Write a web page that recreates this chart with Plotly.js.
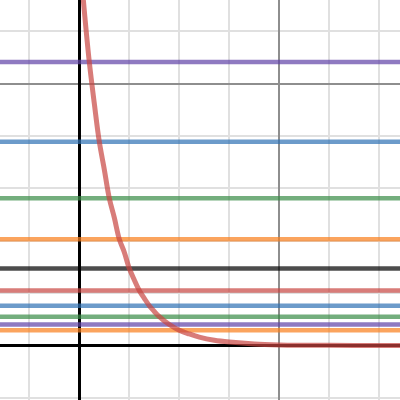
<!DOCTYPE html>
<html>
<head>
<meta charset="utf-8">
<script src="https://cdn.plot.ly/plotly-3.0.1.min.js"></script>
<style>html,body{margin:0;padding:0;background:#fff;}#chart{width:400px;height:400px;}</style>
</head>
<body>
<div id="chart"></div>
<script>
// Curve points
const curveX = [0, 0.1, 0.2, 0.3, 0.4, 0.5, 0.6, 0.7, 0.8, 0.9, 1.0, 1.1, 1.2, 1.3, 1.4, 1.5, 1.6, 1.8, 2.0, 2.2, 2.4, 2.7, 3.0, 3.5, 4.0, 4.5, 5.0, 6.0, 6.5];
const curveY = [7.47, 6.39, 5.41, 4.62, 3.89, 3.36, 2.81, 2.44, 2.03, 1.78, 1.47, 1.25, 1.05, 0.90, 0.76, 0.65, 0.55, 0.40, 0.29, 0.22, 0.16, 0.10, 0.065, 0.028, 0.012, 0.006, 0.003, 0.0005, 0.0002];

// Horizontal level lines (values and colours, top to bottom)
const levelValues = [5.41, 3.89, 2.81, 2.03, 1.47, 1.05, 0.76, 0.55, 0.40, 0.29];
const levelColors = ['#6042a6', '#2d70b3', '#388c46', '#fa7e19', '#000000', '#c74440', '#2d70b3', '#388c46', '#6042a6', '#fa7e19'];
const curveColor = '#c74440';
const xSpan = [-2, 7];

function rgba(hex, a) {
  const r = parseInt(hex.slice(1, 3), 16), g = parseInt(hex.slice(3, 5), 16), b = parseInt(hex.slice(5, 7), 16);
  return 'rgba(' + r + ',' + g + ',' + b + ',' + a + ')';
}

const traces = levelValues.map((v, i) => ({
  type: 'scatter', mode: 'lines',
  x: xSpan, y: [v, v],
  line: {color: rgba(levelColors[i], 0.7), width: 4.5},
  hoverinfo: 'skip', showlegend: false
}));
traces.push({
  type: 'scatter', mode: 'lines',
  x: curveX, y: curveY,
  line: {color: rgba(curveColor, 0.7), width: 5, shape: 'spline', smoothing: 1},
  hoverinfo: 'skip', showlegend: false
});

const layout = {
  width: 400, height: 400,
  margin: {l: 0, r: 0, t: 0, b: 0},
  paper_bgcolor: '#fff', plot_bgcolor: '#fff',
  showlegend: false,
  xaxis: {
    range: [-1.586, 6.414], showticklabels: false, ticks: '',
    tick0: 0, dtick: 4, showgrid: true, gridcolor: '#8e8e8e', gridwidth: 2,
    minor: {tick0: 0, dtick: 1, showgrid: true, gridcolor: '#e0e0e0', gridwidth: 2},
    zeroline: true, zerolinecolor: '#000', zerolinewidth: 3, showline: false, fixedrange: true
  },
  yaxis: {
    range: [-1.040, 6.594], showticklabels: false, ticks: '',
    tick0: 0, dtick: 5, showgrid: true, gridcolor: '#8e8e8e', gridwidth: 2,
    minor: {tick0: 0, dtick: 1, showgrid: true, gridcolor: '#e0e0e0', gridwidth: 2},
    zeroline: true, zerolinecolor: '#000', zerolinewidth: 3, showline: false, fixedrange: true
  }
};

Plotly.newPlot('chart', traces, layout, {staticPlot: true, displayModeBar: false});
</script>
</body>
</html>
